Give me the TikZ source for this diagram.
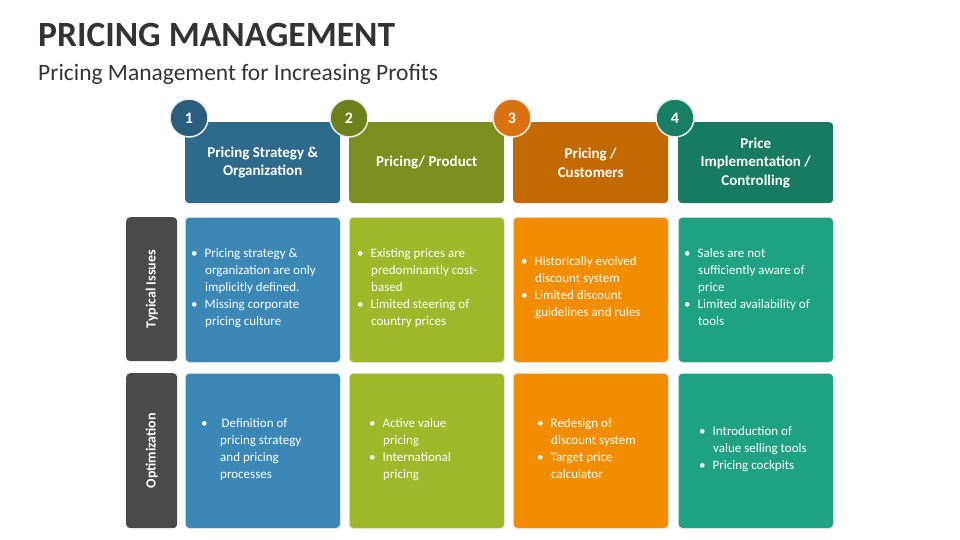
\documentclass[tikz,border=0pt]{standalone}
\usepackage{fontspec}
\setmainfont{Carlito}
\begin{document}
\begin{tikzpicture}[x=1pt,y=-1pt,
 hdr/.style={rounded corners=4pt,minimum width=155pt,minimum height=81pt,anchor=north west,inner sep=0pt,text=white,font=\bfseries\fontsize{15}{18.5}\selectfont,align=center},
 bodyb/.style={rounded corners=4pt,minimum width=155pt,anchor=north west,inner sep=0pt,draw=white!80!gray,line width=0.6pt},
 rowlab/.style={rounded corners=4pt,fill=rowgray,minimum width=51pt,anchor=north west,inner sep=0pt},
 num/.style={circle,minimum size=38pt,inner sep=0pt,text=white,font=\bfseries\fontsize{16}{18}\selectfont,draw=white!85!gray,line width=1.5pt},
 btxt/.style={anchor=north west,text=white,font=\fontsize{13}{17}\selectfont,align=left,inner sep=0pt},
 vlab/.style={rotate=90,text=white,font=\bfseries\fontsize{14}{16}\selectfont}]
\definecolor{rowgray}{HTML}{4A4A4A}
\definecolor{hA}{HTML}{2E6A8C}\definecolor{bA}{HTML}{3B88B6}\definecolor{cA}{HTML}{2A5E7C}
\definecolor{hB}{HTML}{7B8E1E}\definecolor{bB}{HTML}{9EB82A}\definecolor{cB}{HTML}{6D801A}
\definecolor{hC}{HTML}{C26A00}\definecolor{bC}{HTML}{F28D00}\definecolor{cC}{HTML}{DA7210}
\definecolor{hD}{HTML}{167B5F}\definecolor{bD}{HTML}{1FA282}\definecolor{cD}{HTML}{177F63}
\useasboundingbox (0,0) rectangle (960,540);
\fill[white] (0,0) rectangle (960,540);
\node[anchor=west,inner sep=0pt,font=\bfseries\fontsize{35.5}{38}\selectfont,text=black!80] (title) at (38,35) {PRICING MANAGEMENT};
\node[anchor=west,inner sep=0pt,font=\fontsize{23.5}{26}\selectfont,text=black!80] (sub) at (38,74) {Pricing Management for Increasing Profits};
% headers
\node[hdr,fill=hA] (h1) at (185,122) {Pricing Strategy \&\\Organization};
\node[hdr,fill=hB] (h2) at (349,122) {Pricing/ Product};
\node[hdr,fill=hC] (h3) at (513,122) {Pricing /\\Customers};
\node[hdr,fill=hD] (h4) at (678,122) {Price\\Implementation /\\Controlling};
\node[num,fill=cA] (n1) at (189,118) {1};
\node[num,fill=cB] (n2) at (349,118) {2};
\node[num,fill=cC] (n3) at (512,118) {3};
\node[num,fill=cD] (n4) at (675,118) {4};
% row labels
\node[rowlab,minimum height=144pt] (r1) at (126,217) {};
\node[vlab] at (r1.center) {Typical Issues};
\node[rowlab,minimum height=155pt] (r2) at (126,373) {};
\node[vlab] at (r2.center) {Optimization};
% bodies
\node[bodyb,fill=bA,minimum height=145pt] (a1) at (185,217) {};
\node[bodyb,fill=bB,minimum height=145pt] (b1) at (349,217) {};
\node[bodyb,fill=bC,minimum height=145pt] (c1) at (513,217) {};
\node[bodyb,fill=bD,minimum height=145pt] (d1) at (678,217) {};
\node[bodyb,fill=bA,minimum height=155pt] (a2) at (185,373) {};
\node[bodyb,fill=bB,minimum height=155pt] (b2) at (349,373) {};
\node[bodyb,fill=bC,minimum height=155pt] (c2) at (513,373) {};
\node[bodyb,fill=bD,minimum height=155pt] (d2) at (678,373) {};
% texts
\node[btxt] at (191,248) {•\hspace{7pt}Pricing strategy \&\\\hspace{14pt}organization are only\\\hspace{14pt}implicitly defined.\\•\hspace{7pt}Missing corporate\\\hspace{14pt}pricing culture};
\node[btxt] at (357,248) {•\hspace{7pt}Existing prices are\\\hspace{14pt}predominantly cost-\\\hspace{14pt}based\\•\hspace{7pt}Limited steering of\\\hspace{14pt}country prices};
\node[btxt] at (521,256) {•\hspace{7pt}Historically evolved\\\hspace{14pt}discount system\\•\hspace{7pt}Limited discount\\\hspace{14pt}guidelines and rules};
\node[btxt] at (684,248) {•\hspace{7pt}Sales are not\\\hspace{14pt}sufficiently aware of\\\hspace{14pt}price\\•\hspace{7pt}Limited availability of\\\hspace{14pt}tools};
\node[btxt] at (201,418) {•\hspace{14pt}Definition of\\\hspace{19pt}pricing strategy\\\hspace{19pt}and pricing\\\hspace{19pt}processes};
\node[btxt] at (369,418) {•\hspace{7pt}Active value\\\hspace{14pt}pricing\\•\hspace{7pt}International\\\hspace{14pt}pricing};
\node[btxt] at (537,418) {•\hspace{7pt}Redesign of\\\hspace{14pt}discount system\\•\hspace{7pt}Target price\\\hspace{14pt}calculator};
\node[btxt] at (699,426) {•\hspace{7pt}Introduction of\\\hspace{14pt}value selling tools\\•\hspace{7pt}Pricing cockpits};
\end{tikzpicture}
\end{document}
